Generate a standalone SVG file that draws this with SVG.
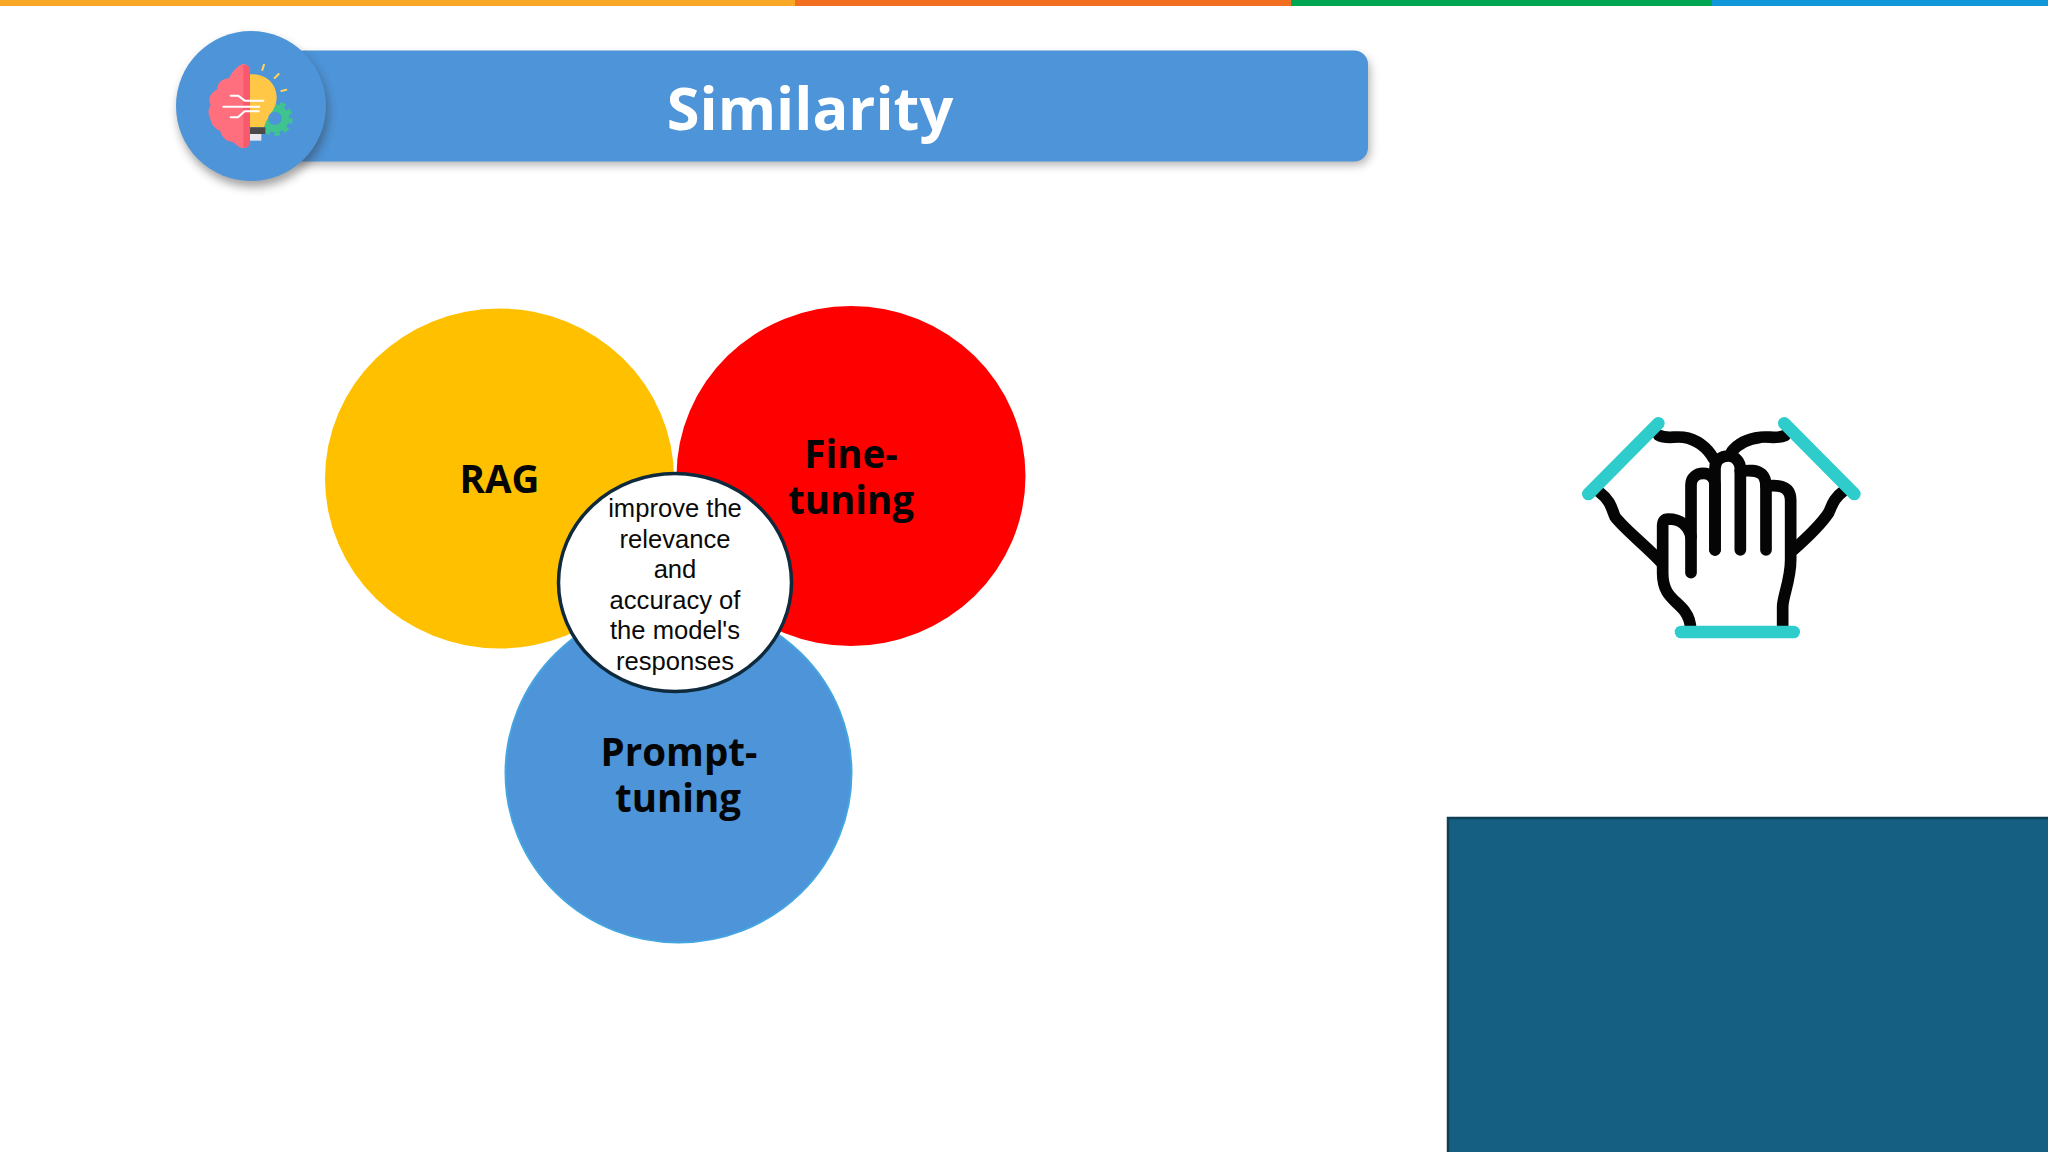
<svg xmlns="http://www.w3.org/2000/svg" width="2048" height="1152" viewBox="0 0 2048 1152">
<style>
.head{font-family:"Open Sans","Noto Sans",sans-serif;font-weight:700;text-anchor:middle;fill:#050505;font-size:38.500px}
.title{font-family:"Open Sans","Noto Sans",sans-serif;font-weight:700;text-anchor:middle;fill:#fff;font-size:59.500px}
.body{font-family:"Liberation Sans",Arial,sans-serif;text-anchor:middle;fill:#0a0a0a;font-size:25.600px}
.blk{fill:none;stroke:#050505;stroke-width:35;stroke-linecap:round;stroke-linejoin:round}
.teal{fill:none;stroke:#2ecccb;stroke-width:38;stroke-linecap:round}
.wire{fill:none;stroke:#fff;stroke-width:6;stroke-linecap:round;stroke-linejoin:round}
.ray{fill:none;stroke:#ffd45c;stroke-width:6;stroke-linecap:round}
</style>
<defs>
<filter id="sh" x="-20%" y="-40%" width="140%" height="190%"><feGaussianBlur stdDeviation="5"/></filter>
</defs>
<rect width="2048" height="1152" fill="#fff"/>
<g id="topbar">
<rect x="0" y="0" width="795" height="6" fill="#f9a825"/>
<rect x="795" y="0" width="496" height="6" fill="#f26f21"/>
<rect x="1291" y="0" width="421" height="6" fill="#00a651"/>
<rect x="1712" y="0" width="336" height="6" fill="#0f97d9"/>
</g>
<g id="banner">
<rect x="290" y="56" width="1080" height="109" rx="14" fill="#555" opacity=".45" filter="url(#sh)"/>
<rect x="290" y="50.500" width="1078" height="111" rx="14" fill="#4d94d8"/>
<text class="title" x="810" y="130">Similarity</text>
</g>
<g id="logo">
<circle cx="253" cy="112" r="75" fill="#333" opacity=".45" filter="url(#sh)"/>
<circle cx="251" cy="106" r="75" fill="#4d94d8"/>
<g transform="translate(160,10) scale(.33333)">
<circle cx="345" cy="325" r="42" fill="#3fc48f"/>
<circle cx="345" cy="325" r="47" fill="none" stroke="#3fc48f" stroke-width="12" stroke-dasharray="16 13.500"/>
<path d="M270 193 C320 190 352 225 350 265 C349 300 320 320 312 352 L270 352z" fill="#ffc745"/>
<circle cx="345" cy="325" r="20" fill="#4d94d8"/>
<path d="M270 352h46v20h-46z" fill="#4a4a4a"/>
<path d="M270 372h34v20h-34z" fill="#e8e8ee"/>
<path d="M248 162 C262 160 270 172 270 185 V395 C270 408 258 415 246 414 C232 412 226 398 212 394 C196 394 184 376 180 362 C162 356 152 340 150 322 C142 306 146 296 152 284 C142 262 152 250 172 238 C170 218 190 206 206 205 C216 190 226 170 248 162z" fill="#ff6f7d"/>
<path d="M250 165 C262 162 270 172 270 185 V395 C270 408 258 415 250 413z" fill="#f9596d"/>
<path class="wire" d="M190 290H298M212 257H234L254 272H310M212 322H234L254 304H296"/>
<path class="ray" d="M307 180l5-16M344 204l12-12M364 243l15-4"/>
</g>
</g>
<g id="node-rag">
<ellipse cx="499.500" cy="478.500" rx="174.500" ry="170" fill="#ffc000"/>
<text class="head" x="499.500" y="493">RAG</text>
</g>
<g id="node-fine">
<ellipse cx="851" cy="476" rx="174.500" ry="170" fill="#ff0000"/>
<text class="head"><tspan x="851" y="468">Fine-</tspan><tspan x="851" y="514">tuning</tspan></text>
</g>
<g id="node-prompt">
<ellipse cx="678.500" cy="773" rx="173" ry="169.500" fill="#4d94d8" stroke="#45a5e0" stroke-width="2"/>
<text class="head"><tspan x="679" y="766">Prompt-</tspan><tspan x="678" y="812">tuning</tspan></text>
</g>
<g id="node-center">
<ellipse cx="675" cy="582.500" rx="116.500" ry="109" fill="#fff" stroke="#0f2a3d" stroke-width="3.500"/>
<text class="body"><tspan x="675" y="517">improve the</tspan><tspan x="675" y="547.500">relevance</tspan><tspan x="675" y="578">and</tspan><tspan x="675" y="608.500">accuracy of</tspan><tspan x="675" y="639">the model's</tspan><tspan x="675" y="670">responses</tspan></text>
</g>
<g id="hand" transform="translate(1560,400) scale(.33333)">
<path class="blk" d="M296 106 C320 118 345 108 370 112 C410 118 440 140 462 178"/>
<path class="blk" d="M676 106 C650 118 625 108 600 112 C565 116 535 130 515 155"/>
<path class="blk" d="M120 278 C150 300 155 325 165 350 C190 385 250 430 305 488"/>
<path class="blk" d="M850 274 C820 295 815 320 805 340 C785 370 745 410 700 450"/>
<path class="blk" d="M393 518 V255 C393 232 410 220 430 220 C450 220 465 235 465 255 V450"/>
<path class="blk" d="M465 450 V205 C465 180 485 168 505 168 C530 168 541 190 541 205 V450"/>
<path class="blk" d="M541 213 C570 210 590 210 605 222 C615 232 618 245 618 260 V450"/>
<path class="blk" d="M618 258 C640 256 692 250 692 300 V480 C692 540 668 590 668 620 V690"/>
<path class="blk" d="M393 410 C385 375 360 357 325 357 C312 357 308 365 308 380 V520 C308 590 350 600 375 635 C390 655 392 670 392 690"/>
<path class="teal" d="M295 70 L85 282"/>
<path class="teal" d="M673 70 L883 282"/>
<path class="teal" d="M363 696 H701"/>
</g>
<g id="panel">
<rect x="1448" y="818" width="602" height="336" fill="#156082" stroke="#0f3f55" stroke-width="2.500"/>
</g>
</svg>
